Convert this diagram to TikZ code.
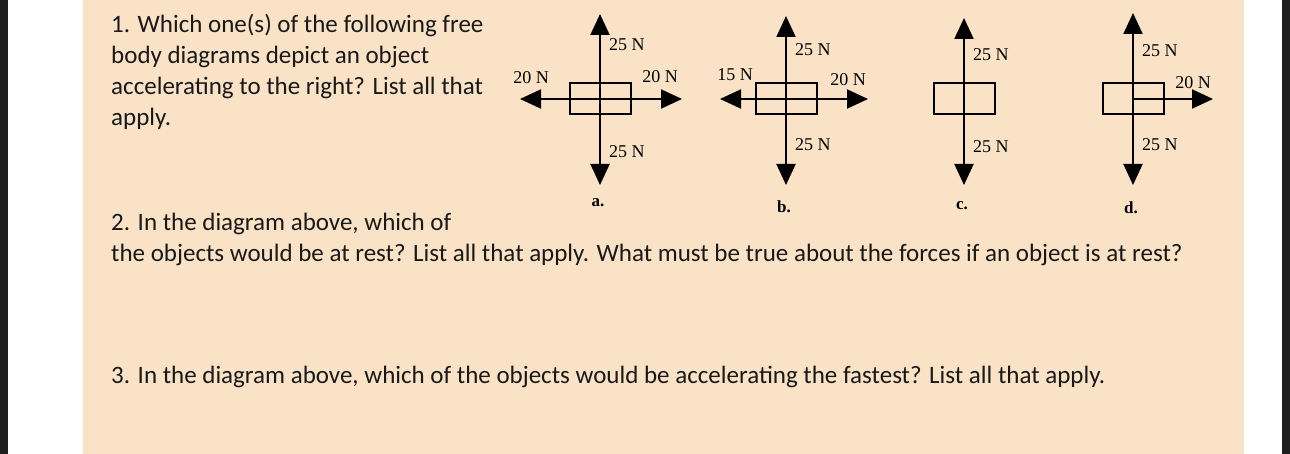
\documentclass[tikz,border=0pt]{standalone}
\usepackage{fontspec}
\setmainfont{Carlito}
\newfontfamily\forcefont{Liberation Serif}
\usetikzlibrary{arrows.meta}
\definecolor{panel}{HTML}{F9E2C5}
\definecolor{darkedge}{HTML}{1E1E1E}

\tikzset{
  force/.style={line width=2pt, -{Triangle[length=21pt, width=19pt]}},
  body/.style={draw, line width=2pt, minimum width=61pt, minimum height=31pt, inner sep=0pt},
  flabel/.style={font=\forcefont\fontsize{18}{18}\selectfont, inner sep=0pt},
  tag/.style={font=\forcefont\bfseries\fontsize{17}{17}\selectfont, inner sep=0pt},
  question/.style={font=\fontsize{25}{31}\selectfont, align=left, inner sep=0pt, anchor=north west, text=black!90}
}

\begin{document}
\begin{tikzpicture}[x=1pt, y=-1pt]
%page
	\fill[darkedge] (0,0) rectangle (1290,454);
	\fill[white] (8,0) rectangle (1282,454);
	\fill[panel] (83,0) rectangle (1244,454);
	\useasboundingbox (0,0) rectangle (1290,454);

%questions
	\node[question] (q1) at (111,14) {1. Which one(s) of the following free\\
		body diagrams depict an object\\
		accelerating to the right? List all that\\
		apply.};
	\node[question] (q2) at (111,213) {2. In the diagram above, which of\\
		the objects would be at rest? List all that apply. What must be true about the forces if an object is at rest?};
	\node[question] (q3) at (111,366) {3. In the diagram above, which of the objects would be accelerating the fastest? List all that apply.};

%boxes, up and down
	\foreach \x/\name/\ytip/\ytl/\ybl/\yt in {600/a/14/45/152/203, 786/b/16/50/145/207, 964/c/18/55/147/206, 1133/d/13/51/145/208}{
		\node[body] (\name) at (\x,99) {};
		\coordinate (\name-up) at (\x,\ytip);
		\coordinate (\name-down) at (\x,185);
		\draw[force] (\name.center) -- (\name-up);
		\draw[force] (\name.center) -- (\name-down);
		\node[flabel, anchor=west] (\name-ut) at ({\x+9},\ytl) {25 N};
		\node[flabel, anchor=west] (\name-dt) at ({\x+9},\ybl) {25 N};
		\node[tag] (\name-tag) at ({\x-2},\yt) {\name.};
	}

%sideways
	\coordinate (a-left) at (520,99);
	\coordinate (a-right) at (682,99);
	\draw[force] (a.center) -- (a-left);
	\draw[force] (a.center) -- (a-right);
	\node[flabel] (a-lt) at (531,78) {20 N};
	\node[flabel] (a-rt) at (660,77) {20 N};

	\coordinate (b-left) at (720,99);
	\coordinate (b-right) at (868,99);
	\draw[force] (b.center) -- (b-left);
	\draw[force] (b.center) -- (b-right);
	\node[flabel] (b-lt) at (735,75) {15 N};
	\node[flabel] (b-rt) at (848,80) {20 N};

	\coordinate (d-right) at (1213,99);
	\draw[force] (d.center) -- (d-right);
	\node[flabel] (d-rt) at (1193,83) {20 N};

\end{tikzpicture}
\end{document}
